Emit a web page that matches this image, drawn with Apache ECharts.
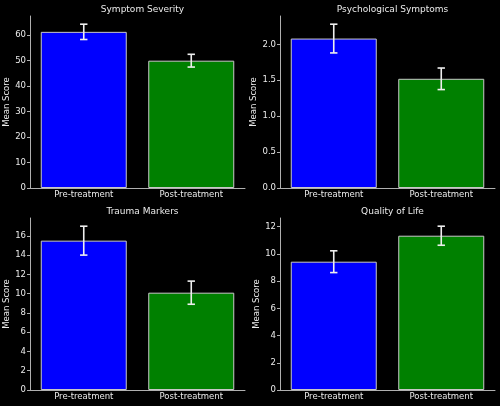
<!DOCTYPE html>
<html>
<head>
<meta charset="utf-8">
<script src="https://cdn.jsdelivr.net/npm/echarts@6/dist/echarts.min.js"></script>
<style>
html,body{margin:0;padding:0;background:#000;}
#c{width:500px;height:406px;}
</style>
</head>
<body>
<div id="c"></div>
<script>
const categories = ['Pre-treatment', 'Post-treatment'];
const titles = ['Symptom Severity', 'Psychological Symptoms', 'Trauma Markers', 'Quality of Life'];
const severityMeans = [61.2, 49.9];
const severityErr = [3.0, 2.5];
const psychMeans = [2.08, 1.52];
const psychErr = [0.2, 0.15];
const traumaMeans = [15.5, 10.1];
const traumaErr = [1.5, 1.2];
const qolMeans = [9.43, 11.34];
const qolErr = [0.8, 0.7];
const severityTicks = [0, 10, 20, 30, 40, 50, 60];
const psychTicks = [0, 0.5, 1.0, 1.5, 2.0];
const traumaTicks = [0, 2, 4, 6, 8, 10, 12, 14, 16];
const qolTicks = [0, 2, 4, 6, 8, 10, 12];
const barColors = ['#0000ff', '#008000'];

const panels = [
  {means: severityMeans, err: severityErr, ticks: severityTicks, dec: 0, gap: 18},
  {means: psychMeans, err: psychErr, ticks: psychTicks, dec: 1, gap: 20},
  {means: traumaMeans, err: traumaErr, ticks: traumaTicks, dec: 0, gap: 18},
  {means: qolMeans, err: qolErr, ticks: qolTicks, dec: 0, gap: 18}
];

const gridPos = [
  {left: 30, top: 16}, {left: 280, top: 16},
  {left: 30, top: 218}, {left: 280, top: 218}
];
const gw = 215, gh = 172;
const textColor = '#ebebeb';
const axisColor = '#b0b0b0';
const font = 'DejaVu Sans';

const option = {
  backgroundColor: '#000',
  animation: false,
  title: [], grid: [], xAxis: [], yAxis: [], series: []
};

panels.forEach((p, i) => {
  const g = gridPos[i];
  const ymax = Math.max(...p.means.map((m, k) => m + p.err[k])) * 1.05;
  option.title.push({
    text: titles[i], left: g.left + gw / 2, top: g.top - 16, textAlign: 'center',
    textStyle: {color: textColor, fontSize: 9, fontWeight: 'normal', fontFamily: font}
  });
  option.grid.push({left: g.left, top: g.top, width: gw, height: gh, containLabel: false});
  option.xAxis.push({
    type: 'category', gridIndex: i, data: categories,
    axisLine: {lineStyle: {color: axisColor, width: 1}},
    axisTick: {alignWithLabel: true, length: 3, lineStyle: {color: axisColor}},
    axisLabel: {color: textColor, fontSize: 8.5, fontFamily: font, margin: 2}
  });
  option.yAxis.push({
    type: 'value', gridIndex: i, min: 0, max: ymax,
    name: 'Mean Score', nameLocation: 'middle', nameGap: p.gap,
    nameTextStyle: {color: textColor, fontSize: 8.5, fontFamily: font},
    splitLine: {show: false},
    axisLine: {show: true, lineStyle: {color: axisColor, width: 1}},
    axisTick: {show: true, length: 3, lineStyle: {color: axisColor}, customValues: p.ticks},
    axisLabel: {color: textColor, fontSize: 8.5, fontFamily: font, margin: 4,
      customValues: p.ticks, formatter: v => Number(v).toFixed(p.dec)}
  });
  option.series.push({
    type: 'bar', xAxisIndex: i, yAxisIndex: i, barWidth: '80%',
    data: p.means.map((m, k) => ({value: m, itemStyle: {color: barColors[k]}})),
    itemStyle: {borderColor: '#c8c8c8', borderWidth: 1}
  });
  option.series.push({
    type: 'custom', xAxisIndex: i, yAxisIndex: i, z: 10,
    data: p.means.map((m, k) => [k, m - p.err[k], m + p.err[k]]),
    renderItem: function (params, api) {
      const lo = api.coord([api.value(0), api.value(1)]);
      const hi = api.coord([api.value(0), api.value(2)]);
      const cw = 3.7;
      const st = {stroke: '#eeeeee', lineWidth: 1.6};
      return {type: 'group', children: [
        {type: 'line', shape: {x1: lo[0], y1: lo[1], x2: hi[0], y2: hi[1]}, style: st},
        {type: 'line', shape: {x1: lo[0] - cw, y1: lo[1], x2: lo[0] + cw, y2: lo[1]}, style: st},
        {type: 'line', shape: {x1: hi[0] - cw, y1: hi[1], x2: hi[0] + cw, y2: hi[1]}, style: st}
      ]};
    }
  });
});

const chart = echarts.init(document.getElementById('c'), null, {renderer: 'canvas'});
chart.setOption(option);
</script>
</body>
</html>
